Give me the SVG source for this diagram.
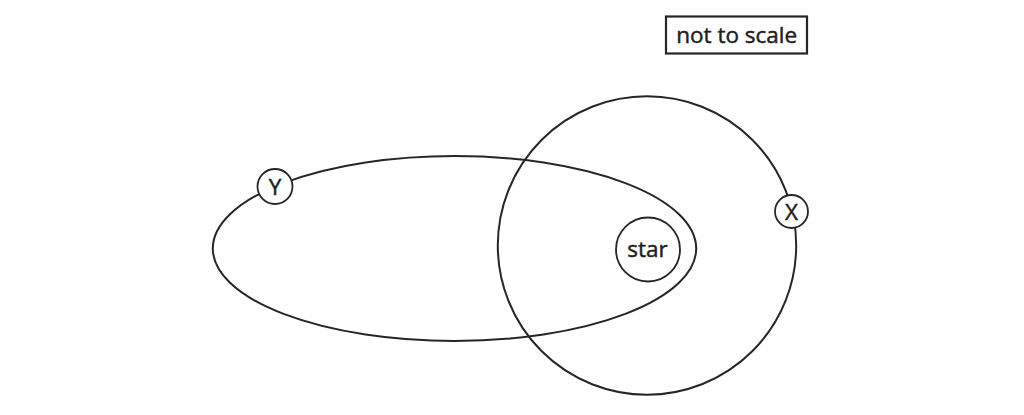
<svg xmlns="http://www.w3.org/2000/svg" width="1024" height="415" viewBox="0 0 1024 415">
<style>
.ln{fill:none;stroke:#262626;stroke-width:2}
.nd{fill:#fff;stroke:#262626;stroke-width:1.8}
.tx{font-family:"Open Sans","DejaVu Sans",sans-serif;font-size:22.5px;fill:#1e1e1e;stroke:#1e1e1e;stroke-width:0.45;text-anchor:middle}
</style>
<rect width="1024" height="415" fill="#fff"/>
<g id="connectors">
<ellipse class="ln" cx="454.5" cy="248.5" rx="241.7" ry="92.5"/>
<circle class="ln" cx="647" cy="245.5" r="149.2"/>
</g>
<g id="star">
<circle class="nd" cx="648" cy="249.5" r="32"/>
<text class="tx" x="647.5" y="257.3">star</text>
</g>
<g id="Y">
<circle class="nd" cx="275" cy="186.5" r="17.5"/>
<text class="tx" x="275" y="194.5">Y</text>
</g>
<g id="X">
<circle class="nd" cx="791.5" cy="211.5" r="16.5"/>
<text class="tx" x="791.5" y="219.5">X</text>
</g>
<g id="note">
<rect x="666" y="16.5" width="141" height="37" fill="#fff" stroke="#262626" stroke-width="2.2"/>
<text class="tx" x="736.7" y="43.3">not to scale</text>
</g>
</svg>
